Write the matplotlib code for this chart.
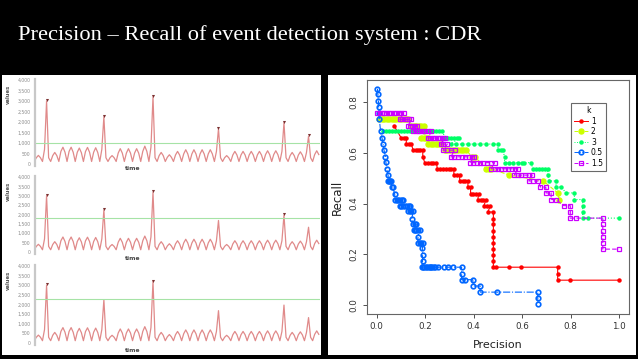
import numpy as np
import matplotlib.pyplot as plt
from matplotlib.lines import Line2D

W, H = 638, 359

# ---- left: one traffic series shown with three thresholds ----
values = [
    120, 300, 410, 300,
    120, 700, 3000, 300,
    120, 400, 550, 400,
    120, 600, 800, 560,
    120, 600, 800, 560,
    120, 560, 760, 540,
    120, 590, 790, 560,
    120, 560, 775, 550,
    120, 700, 2250, 300,
    120, 300, 400, 300,
    120, 520, 730, 520,
    120, 520, 730, 520,
    120, 520, 730, 520,
    120, 600, 850, 600,
    120, 800, 3200, 300,
    120, 400, 550, 400,
    120, 320, 440, 320,
    120, 430, 600, 430,
    120, 480, 680, 480,
    120, 480, 680, 480,
    120, 480, 680, 480,
    120, 480, 680, 480,
    120, 600, 1680, 300,
    120, 300, 400, 300,
    120, 430, 600, 430,
    120, 430, 600, 430,
    120, 430, 600, 430,
    120, 430, 600, 430,
    120, 450, 630, 450,
    120, 450, 630, 450,
    120, 600, 1970, 300,
    120, 400, 550, 400,
    120, 420, 580, 420,
    120, 550, 1320, 300,
    120, 450, 630, 450,
]
thresholds = [1000, 1830, 2270]
y_ticks = [0, 500, 1000, 1500, 2000, 2500, 3000, 3500, 4000]
y_ticklabels = ['0', '500', '1,000', '1,500', '2,000', '2,500', '3,000', '3,500', '4,000']

# ---- right: precision / recall for each k ----
red_x = [0.071, 0.101, 0.111, 0.122, 0.122, 0.132, 0.143, 0.150, 0.160, 0.170, 0.180, 0.190,
         0.190, 0.198, 0.210, 0.222, 0.234, 0.246, 0.250, 0.262, 0.274, 0.286, 0.298, 0.308,
         0.318, 0.318, 0.330, 0.342, 0.342, 0.354, 0.366, 0.376, 0.376, 0.387, 0.387, 0.398,
         0.409, 0.420, 0.417, 0.428, 0.440, 0.451, 0.442, 0.455, 0.469, 0.458, 0.481, 0.481,
         0.481, 0.481, 0.481, 0.481, 0.481, 0.481, 0.481, 0.481, 0.493, 0.545, 0.595, 0.746,
         0.746, 0.746, 0.797, 0.997]
red_y = [0.707, 0.658, 0.658, 0.658, 0.634, 0.634, 0.634, 0.610, 0.610, 0.610, 0.610, 0.610,
         0.584, 0.561, 0.561, 0.561, 0.561, 0.561, 0.537, 0.537, 0.537, 0.537, 0.537, 0.537,
         0.537, 0.512, 0.512, 0.512, 0.489, 0.489, 0.489, 0.489, 0.465, 0.465, 0.439, 0.439,
         0.439, 0.439, 0.416, 0.416, 0.416, 0.416, 0.392, 0.392, 0.392, 0.367, 0.367, 0.341,
         0.318, 0.294, 0.269, 0.246, 0.222, 0.197, 0.174, 0.150, 0.150, 0.150, 0.150, 0.150,
         0.124, 0.099, 0.099, 0.099]

yel_x = [0.011, 0.021, 0.031, 0.041, 0.051, 0.061, 0.071, 0.081, 0.091, 0.101, 0.111, 0.121,
         0.131, 0.143, 0.153, 0.163, 0.173, 0.184, 0.195, 0.195, 0.184, 0.195, 0.205, 0.211,
         0.211, 0.222, 0.233, 0.244, 0.254, 0.263, 0.280, 0.291, 0.302, 0.313, 0.324, 0.335,
         0.346, 0.357, 0.370, 0.392, 0.405, 0.451, 0.462, 0.472, 0.547, 0.687, 0.746, 0.753]
yel_y = [0.731, 0.731, 0.731, 0.731, 0.731, 0.731, 0.731, 0.731, 0.731, 0.731, 0.731, 0.731,
         0.731, 0.707, 0.707, 0.707, 0.707, 0.707, 0.707, 0.684, 0.658, 0.658, 0.658, 0.658,
         0.634, 0.634, 0.634, 0.634, 0.634, 0.634, 0.610, 0.610, 0.610, 0.610, 0.610, 0.610,
         0.610, 0.610, 0.610, 0.584, 0.584, 0.537, 0.537, 0.537, 0.512, 0.489, 0.442, 0.416]

grn_x = [0.027, 0.040, 0.052, 0.064, 0.076, 0.088, 0.100, 0.112, 0.124, 0.136, 0.148, 0.160,
         0.172, 0.184, 0.196, 0.208, 0.220, 0.232, 0.245, 0.257, 0.270, 0.283, 0.295, 0.307,
         0.319, 0.330, 0.341, 0.305, 0.328, 0.353, 0.376, 0.403, 0.424, 0.451, 0.479, 0.500,
         0.500, 0.512, 0.520, 0.527, 0.527, 0.545, 0.563, 0.581, 0.600, 0.609, 0.637, 0.643,
         0.655, 0.667, 0.680, 0.692, 0.705, 0.705, 0.712, 0.740, 0.739, 0.760, 0.781, 0.815,
         0.815, 0.849, 0.849, 0.849, 0.849, 0.870, 0.999]
grn_y = [0.684, 0.684, 0.684, 0.684, 0.684, 0.684, 0.684, 0.684, 0.684, 0.684, 0.684, 0.684,
         0.684, 0.684, 0.684, 0.684, 0.684, 0.684, 0.684, 0.684, 0.684, 0.658, 0.658, 0.658,
         0.658, 0.658, 0.658, 0.634, 0.634, 0.634, 0.634, 0.634, 0.634, 0.634, 0.634, 0.634,
         0.610, 0.610, 0.610, 0.584, 0.561, 0.561, 0.561, 0.561, 0.561, 0.561, 0.561, 0.537,
         0.537, 0.537, 0.537, 0.537, 0.537, 0.512, 0.489, 0.489, 0.465, 0.465, 0.442, 0.442,
         0.416, 0.416, 0.392, 0.367, 0.343, 0.343, 0.343]

blu_x = [0.003, 0.005, 0.007, 0.008, 0.009, 0.011, 0.016, 0.022, 0.026, 0.030, 0.036, 0.038,
         0.042, 0.047, 0.048, 0.052, 0.056, 0.060, 0.062, 0.066, 0.074, 0.075, 0.082, 0.089,
         0.096, 0.103, 0.108, 0.095, 0.102, 0.109, 0.116, 0.124, 0.132, 0.139, 0.129, 0.136,
         0.143, 0.150, 0.145, 0.150, 0.156, 0.163, 0.152, 0.158, 0.164, 0.170, 0.177, 0.170,
         0.170, 0.177, 0.184, 0.191, 0.188, 0.189, 0.189, 0.186, 0.191, 0.197, 0.203, 0.208,
         0.214, 0.219, 0.225, 0.230, 0.236, 0.241, 0.254, 0.279, 0.295, 0.314, 0.350, 0.350,
         0.350, 0.362, 0.396, 0.398, 0.427, 0.427, 0.495, 0.664, 0.664, 0.664]
blu_y = [0.852, 0.829, 0.803, 0.779, 0.757, 0.731, 0.684, 0.658, 0.635, 0.611, 0.584, 0.562,
         0.537, 0.511, 0.487, 0.487, 0.487, 0.487, 0.465, 0.465, 0.439, 0.416, 0.416, 0.416,
         0.416, 0.416, 0.416, 0.392, 0.392, 0.392, 0.392, 0.392, 0.392, 0.392, 0.370, 0.370,
         0.370, 0.370, 0.341, 0.318, 0.318, 0.318, 0.297, 0.297, 0.297, 0.297, 0.297, 0.270,
         0.245, 0.245, 0.245, 0.245, 0.224, 0.197, 0.174, 0.150, 0.150, 0.150, 0.150, 0.150,
         0.150, 0.150, 0.150, 0.150, 0.150, 0.150, 0.150, 0.150, 0.150, 0.150, 0.150, 0.124,
         0.101, 0.101, 0.101, 0.076, 0.076, 0.052, 0.052, 0.052, 0.027, 0.004]

mag_x = [0.003, 0.012, 0.021, 0.030, 0.040, 0.050, 0.060, 0.070, 0.080, 0.090, 0.100, 0.112,
         0.095, 0.105, 0.115, 0.125, 0.135, 0.143, 0.129, 0.138, 0.147, 0.157, 0.167, 0.150,
         0.160, 0.170, 0.180, 0.190, 0.200, 0.212, 0.225, 0.211, 0.221, 0.231, 0.241, 0.251,
         0.262, 0.272, 0.283, 0.263, 0.275, 0.291, 0.274, 0.290, 0.305, 0.321, 0.305, 0.320,
         0.335, 0.350, 0.365, 0.380, 0.392, 0.403, 0.384, 0.398, 0.412, 0.426, 0.440, 0.455,
         0.470, 0.486, 0.472, 0.486, 0.500, 0.514, 0.528, 0.542, 0.556, 0.570, 0.582, 0.568,
         0.582, 0.596, 0.611, 0.626, 0.641, 0.627, 0.644, 0.665, 0.675, 0.697, 0.698, 0.719,
         0.719, 0.739, 0.771, 0.798, 0.798, 0.798, 0.822, 0.932, 0.932, 0.932, 0.932, 0.932,
         0.932, 0.999]
mag_y = [0.757, 0.757, 0.757, 0.757, 0.757, 0.757, 0.757, 0.757, 0.757, 0.757, 0.757, 0.757,
         0.731, 0.731, 0.731, 0.731, 0.731, 0.731, 0.707, 0.707, 0.707, 0.707, 0.707, 0.684,
         0.684, 0.684, 0.684, 0.684, 0.684, 0.684, 0.684, 0.658, 0.658, 0.658, 0.658, 0.658,
         0.658, 0.658, 0.658, 0.634, 0.634, 0.634, 0.610, 0.610, 0.610, 0.610, 0.584, 0.584,
         0.584, 0.584, 0.584, 0.584, 0.584, 0.584, 0.561, 0.561, 0.561, 0.561, 0.561, 0.561,
         0.561, 0.561, 0.537, 0.537, 0.537, 0.537, 0.537, 0.537, 0.537, 0.537, 0.537, 0.512,
         0.512, 0.512, 0.512, 0.512, 0.512, 0.489, 0.489, 0.489, 0.465, 0.465, 0.442, 0.442,
         0.416, 0.416, 0.392, 0.392, 0.367, 0.343, 0.343, 0.343, 0.318, 0.294, 0.269, 0.246,
         0.221, 0.221]

k_labels = ['1', '2', '3', '0.5', '1.5']
k_colors = ['#FF0000', '#CCFF00', '#00FF66', '#0066FF', '#CC00FF']


def fig_rect(x0, y0, x1, y1):
    # pixel box -> figure fraction [left, bottom, width, height]
    return [x0 / W, 1 - y1 / H, (x1 - x0) / W, (y1 - y0) / H]


fig = plt.figure(figsize=(W / 100, H / 100), dpi=100, facecolor='black')

fig.text(18 / W, 1 - 35 / H, 'Precision \u2013 Recall of event detection system : CDR',
         color='white', fontsize=16.2, family='Liberation Serif', va='center', ha='left')

# white panels
for box in [(2, 75, 321, 355), (328, 75, 636, 355)]:
    bg = fig.add_axes(fig_rect(*box))
    bg.set_facecolor('white')
    bg.set_xticks([])
    bg.set_yticks([])
    for s in bg.spines.values():
        s.set_visible(False)

# left stacked plots
ylo, yhi = -100, 4050
rows = [(80, 164, 169), (177, 252, 258), (266, 343, 350)]
t = np.arange(len(values))
v = np.array(values)
for (p4000, p0, ptime), thr in zip(rows, thresholds):
    scale = (p0 - p4000) / 4000
    top = p4000 - (yhi - 4000) * scale
    bot = p0 + (0 - ylo) * scale
    ax = fig.add_axes(fig_rect(34.5, top, 320, bot))
    ax.set_facecolor('none')
    ax.plot(t, v, color='#e08a8a', lw=0.9)
    ax.axhline(thr, color='#a6e3a6', lw=0.8)
    peaks = [i for i in range(1, len(v) - 1) if v[i] > thr and v[i] >= v[i - 1] and v[i] >= v[i + 1]]
    ax.plot(t[peaks], v[peaks] + 40, 'v', color='#7a3030', ms=2.2, mew=0)
    ax.set_xlim(0.1, 139.6)
    ax.set_ylim(ylo, yhi)
    ax.set_yticks(y_ticks)
    ax.set_yticklabels(y_ticklabels)
    ax.tick_params(axis='y', labelsize=3.3, colors='#8a8a8a', length=0, pad=3)
    ax.set_xticks([])
    for s in ['top', 'right', 'bottom']:
        ax.spines[s].set_visible(False)
    ax.spines['left'].set_color('#c8c8c8')
    ax.spines['left'].set_linewidth(1.6)
    fig.text(133 / W, 1 - ptime / H, 'time', fontsize=4.3, fontweight='bold',
             color='#444444', ha='center', va='center')
    fig.text(8 / W, 1 - (p4000 + 14) / H, 'values', fontsize=3.8, fontweight='bold',
             color='#555555', rotation=90, ha='center', va='center')

# right precision-recall plot
ax = fig.add_axes(fig_rect(367, 80, 629, 314))
ax.set_facecolor('white')
series = [(red_x, red_y), (yel_x, yel_y), (grn_x, grn_y), (blu_x, blu_y), (mag_x, mag_y)]
styles = [
    dict(ls='-', marker='o', ms=2.2, mfc=k_colors[0], mec=k_colors[0]),
    dict(ls='--', marker='o', ms=3.6, mfc=k_colors[1], mec=k_colors[1]),
    dict(ls=':', marker='o', ms=2.2, mfc=k_colors[2], mec=k_colors[2]),
    dict(ls='-.', marker='o', ms=3.3, mfc='none', mec=k_colors[3], mew=1.2),
    dict(ls=(0, (4, 2)), marker='s', ms=3.0, mfc='none', mec=k_colors[4], mew=0.9),
]
handles = []
for (xs, ys), c, st, lab in zip(series, k_colors, styles, k_labels):
    ax.plot(xs, ys, color=c, lw=0.8, **st)
    handles.append(Line2D([], [], color=c, lw=0.7, label=lab, **st))

ax.set_xlim(-0.04, 1.04)
ax.set_ylim(-0.034, 0.886)
ax.set_xticks([0.0, 0.2, 0.4, 0.6, 0.8, 1.0])
ax.set_yticks([0.0, 0.2, 0.4, 0.6, 0.8])
ax.tick_params(labelsize=6.3, colors='#333333', length=3, width=0.6, pad=3)
for lab in ax.get_yticklabels():
    lab.set_rotation(90)
    lab.set_va('center')
for s in ax.spines.values():
    s.set_color('#666666')
    s.set_linewidth(0.8)
ax.set_xlabel('Precision', fontsize=8, color='#222222', labelpad=6)
ax.set_ylabel('Recall', fontsize=8.5, color='#222222', labelpad=4)

leg = ax.legend(handles=handles, title='k', loc='upper left', bbox_to_anchor=(0.779, 0.902),
                fontsize=5.5, title_fontsize=5.5, frameon=True, fancybox=False,
                edgecolor='#444444', handlelength=1.8, handletextpad=0.4,
                borderpad=0.4, labelspacing=0.2, borderaxespad=0)
leg.get_frame().set_linewidth(0.8)

fig.savefig('out.png', dpi=100, facecolor='black')
